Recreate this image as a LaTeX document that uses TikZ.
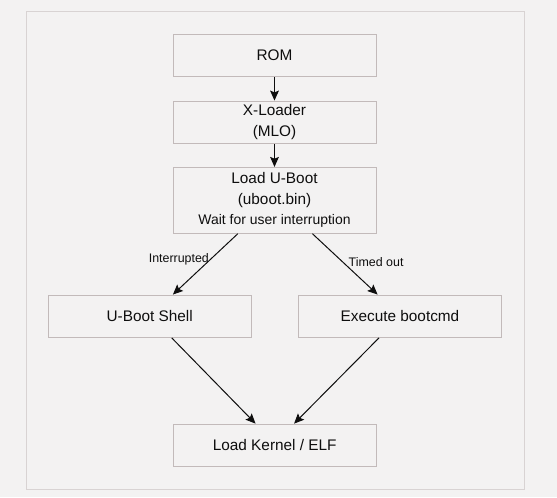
\documentclass[tikz,border=0pt]{standalone}
\usepackage{fontspec}
\setmainfont{Liberation Sans}
\usepackage{xcolor}
\usetikzlibrary{calc}
\usetikzlibrary{arrows.meta}

\definecolor{bgcol}{HTML}{F3F2F2}
\definecolor{frameline}{HTML}{D8D3D3}
\definecolor{boxline}{HTML}{C2BABA}
\definecolor{ink}{HTML}{0E0E0E}

\begin{document}
\begin{tikzpicture}[x=0.03cm,y=-0.03cm,
  stage/.style={draw=boxline,fill=bgcol,line width=0.7pt,minimum width=6.09cm,
    minimum height=1.275cm,inner sep=0pt,align=center,text=ink,
    font=\fontsize{13.1}{17.5}\selectfont},
  flow/.style={-{Stealth[length=8.5pt,width=7.5pt,inset=1.5pt]},ink,line width=0.85pt},
  tag/.style={text=ink,font=\fontsize{10.6}{12}\selectfont,inner sep=1pt}]

% Background and outer frame
\fill[bgcol] (0,0) rectangle (557,497);
\draw[frameline,line width=0.7pt] (26,11.7) rectangle (524,489);

% Boot stages
\node[stage] (rom) at (274.5,55.5) {ROM};
\node[stage] (xload) at (274.5,122.2) {X-Loader\\(MLO)};
\node[stage,minimum height=1.98cm] (uboot) at (274.5,200.3)
    {Load U-Boot\\(uboot.bin)\\{\fontsize{11.9}{17.5}\selectfont Wait for user interruption}};
\node[stage] (shell) at (149.7,316.2) {U-Boot Shell};
\node[stage] (bootcmd) at (400,316.2) {Execute bootcmd};
\node[stage] (kernel) at (274.7,445.3) {Load Kernel / ELF};

% Straight chain
\draw[flow] (rom) -- (xload);
\draw[flow] (xload) -- (uboot);

% Branches
\draw[flow] ($(uboot.south west)!0.32!(uboot.south east)$)
    -- node[tag,pos=0.42,left] {Interrupted}
    ($(shell.north west)!0.614!(shell.north east)$);
\draw[flow] ($(uboot.south west)!0.686!(uboot.south east)$)
    -- node[tag,pos=0.46,right=4pt] {Timed out}
    ($(bootcmd.north west)!0.39!(bootcmd.north east)$);

% Merge into kernel
\draw[flow] ($(shell.south west)!0.608!(shell.south east)$)
    -- ($(kernel.north west)!0.406!(kernel.north east)$);
\draw[flow] ($(bootcmd.south west)!0.397!(bootcmd.south east)$)
    -- ($(kernel.north west)!0.595!(kernel.north east)$);

\end{tikzpicture}
\end{document}
